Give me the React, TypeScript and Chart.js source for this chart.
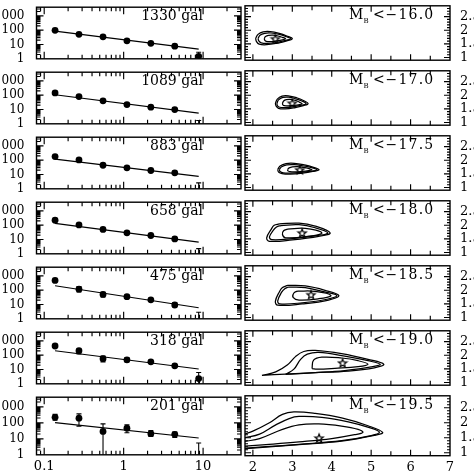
import React, { useEffect, useRef } from "react";
import { Chart, registerables } from "chart.js";

Chart.register(...registerables);
Chart.defaults.font.family = "'DejaVu Serif', serif";
Chart.defaults.color = "#000";

// ---------------- data ----------------
const galaxyCounts = ["1330 gal", "1089 gal", "883 gal", "658 gal", "475 gal", "318 gal", "201 gal"];
const magLimits = ["\u221216.0", "\u221217.0", "\u221217.5", "\u221218.0", "\u221218.5", "\u221219.0", "\u221219.5"];

const binRadii = [0.137, 0.274, 0.55, 1.1, 2.2, 4.4, 8.8];
const fitRadii = [0.137, 8.8];

const dens1330 = [98, 51, 34, 18, 12, 7.6, 1.5];
const lo1330 = [88, 46, 31, 16, 10.5, 6.6, 0.6];
const hi1330 = [108, 56, 37, 20, 13.5, 8.7, 2.9];
const fit1330 = [86, 4.8];

const dens1089 = [144, 79, 40, 22, 14.5, 9.8, null];
const lo1089 = [130, 71, 36, 20, 13, 8.6, 0.3];
const hi1089 = [158, 87, 44, 24, 16, 11, 1.7];
const fit1089 = [107, 5.5];

const dens883 = [178, 103, 44, 29, 19, 13, null];
const lo883 = [160, 93, 40, 26, 17, 11.5, 0.3];
const hi883 = [196, 113, 48, 32, 21, 14.5, 2.6];
const fit883 = [117, 7.4];

const dens658 = [220, 103, 50, 29, 19, 11, null];
const lo658 = [198, 90, 44, 26, 17, 9.5, 0.3];
const hi658 = [242, 116, 56, 32, 21, 12.5, 2.3];
const fit658 = [133, 6.5];

const dens475 = [475, 117, 50, 35, 21, 9.2, null];
const lo475 = [430, 76, 33, 30, 18, 6.7, 0.3];
const hi475 = [520, 178, 70, 40, 24, 13, 2.9];
const fit475 = [203, 5.9];

const dens318 = [436, 203, 57, 47, 34, 18, 2.3];
const lo318 = [395, 120, 34, 34, 29, 15, 0.3];
const hi318 = [480, 260, 86, 66, 39, 21, 6.2];
const fit318 = [203, 10.8];

const dens201 = [220, 195, 29, 46, 21, 19, null];
const lo201 = [144, 62, 0.3, 24, 14, 12, 0.3];
const hi201 = [335, 365, 86, 76, 33, 26, 5.5];
const fit201 = [103, 11.2];

// likelihood contours (x, y) and best-fit stars for each magnitude limit
type Pt = [number, number];
const outer16: Pt[] = [[2.07,1.70],[2.13,1.85],[2.26,1.94],[2.44,1.95],[2.67,1.885],[2.86,1.79],[3.00,1.69],[2.86,1.61],[2.63,1.53],[2.35,1.47],[2.16,1.49],[2.09,1.59]];
const mid16: Pt[] = [[2.13,1.70],[2.18,1.82],[2.30,1.89],[2.46,1.90],[2.67,1.85],[2.84,1.77],[2.96,1.69],[2.84,1.63],[2.63,1.56],[2.38,1.52],[2.21,1.54],[2.15,1.61]];
const inner16: Pt[] = [[2.29,1.70],[2.32,1.77],[2.40,1.81],[2.51,1.82],[2.64,1.79],[2.75,1.74],[2.83,1.69],[2.75,1.65],[2.61,1.61],[2.45,1.58],[2.34,1.59],[2.30,1.64]];
const star16: Pt = [2.57, 1.69];

const outer17: Pt[] = [[2.57,1.70],[2.62,1.86],[2.74,1.97],[2.90,1.98],[3.11,1.91],[3.28,1.81],[3.40,1.69],[3.28,1.62],[3.07,1.55],[2.82,1.50],[2.65,1.52],[2.59,1.60]];
const mid17: Pt[] = [[2.61,1.70],[2.65,1.83],[2.76,1.92],[2.91,1.93],[3.09,1.87],[3.24,1.79],[3.35,1.69],[3.24,1.64],[3.05,1.585],[2.83,1.55],[2.68,1.56],[2.62,1.62]];
const inner17: Pt[] = [[2.75,1.70],[2.78,1.79],[2.85,1.84],[2.95,1.85],[3.08,1.81],[3.18,1.75],[3.25,1.69],[3.18,1.66],[3.05,1.63],[2.90,1.61],[2.80,1.62],[2.76,1.65]];
const star17: Pt = [3.0, 1.71];

const outer175: Pt[] = [[2.63,1.66],[2.69,1.79],[2.84,1.88],[3.05,1.89],[3.31,1.83],[3.52,1.75],[3.68,1.65],[3.52,1.59],[3.26,1.53],[2.95,1.49],[2.74,1.51],[2.65,1.57]];
const mid175: Pt[] = [[2.67,1.66],[2.73,1.76],[2.86,1.83],[3.05,1.84],[3.29,1.79],[3.49,1.73],[3.63,1.65],[3.49,1.60],[3.25,1.56],[2.96,1.53],[2.77,1.54],[2.69,1.59]];
const inner175: Pt[] = [[2.88,1.66],[2.92,1.72],[3.00,1.76],[3.13,1.77],[3.28,1.74],[3.41,1.70],[3.50,1.65],[3.41,1.62],[3.25,1.59],[3.07,1.57],[2.94,1.58],[2.89,1.61]];
const star175: Pt = [3.19, 1.65];

const outer18: Pt[] = [[2.67,2.05],[3.17,2.08],[3.58,1.97],[3.96,1.72],[3.67,1.59],[3.0,1.46],[2.42,1.41],[2.35,1.54],[2.46,1.84],[2.54,2.00]];
const mid18: Pt[] = [[2.71,1.99],[3.17,2.02],[3.58,1.91],[3.90,1.72],[3.63,1.62],[3.0,1.51],[2.48,1.47],[2.42,1.57],[2.52,1.82],[2.60,1.94]];
const inner18: Pt[] = [[2.88,1.86],[3.33,1.89],[3.75,1.72],[3.42,1.60],[2.83,1.54],[2.75,1.66],[2.78,1.80]];
const star18: Pt = [3.25, 1.72];

const outer185: Pt[] = [[2.88,2.18],[3.33,2.16],[3.83,2.00],[4.18,1.81],[3.92,1.64],[3.25,1.50],[2.63,1.45],[2.57,1.59],[2.67,1.94],[2.75,2.10]];
const mid185: Pt[] = [[2.90,2.12],[3.33,2.10],[3.82,1.94],[4.13,1.81],[3.88,1.67],[3.25,1.54],[2.68,1.50],[2.63,1.61],[2.73,1.93],[2.81,2.06]];
const inner185: Pt[] = [[3.13,1.97],[3.58,1.96],[3.98,1.81],[3.67,1.69],[3.17,1.64],[3.02,1.74],[3.04,1.90]];
const star185: Pt = [3.475, 1.84];

const outer19: Pt[] = [[2.23,1.26],[2.58,1.39],[2.88,1.65],[3.08,1.95],[3.29,2.14],[3.58,2.18],[4.25,2.06],[4.92,1.85],[5.32,1.67],[5.08,1.54],[4.42,1.42],[3.58,1.36],[2.83,1.31]];
const mid19: Pt[] = [[2.83,1.30],[3.04,1.49],[3.21,1.85],[3.38,2.04],[3.67,2.11],[4.33,1.97],[4.92,1.80],[5.23,1.67],[5.0,1.57],[4.33,1.44],[3.58,1.36],[2.96,1.31]];
const inner19: Pt[] = [[3.50,1.51],[3.54,1.82],[3.75,1.93],[4.25,1.90],[4.67,1.80],[4.92,1.67],[4.67,1.58],[4.08,1.52],[3.63,1.49]];
const star19: Pt = [4.275, 1.72];

const outer195: Pt[] = [[1.6,1.55],[1.8,1.63],[2.0,1.72],[2.42,2.0],[2.75,2.28],[3.04,2.36],[3.58,2.31],[4.25,2.16],[4.92,1.90],[5.29,1.68],[5.08,1.58],[4.25,1.39],[3.17,1.27],[2.33,1.19],[1.83,1.14],[1.6,1.12]];
const mid195: Pt[] = [[1.6,1.44],[1.8,1.50],[2.17,1.62],[2.58,1.93],[2.92,2.14],[3.17,2.21],[3.75,2.18],[4.42,2.03],[5.0,1.82],[5.21,1.68],[5.0,1.57],[4.25,1.40],[3.17,1.28],[2.33,1.20],[1.83,1.15],[1.6,1.13]];
const inner195: Pt[] = [[1.6,1.33],[1.8,1.38],[2.17,1.47],[2.75,1.78],[3.17,1.93],[3.67,1.96],[4.25,1.89],[4.67,1.78],[4.79,1.68],[4.58,1.60],[4.0,1.47],[3.17,1.36],[2.33,1.27],[1.8,1.22],[1.6,1.2]];
const star195: Pt = [3.68, 1.49];

// axis tick labels
const leftXTicks = [0.1, 1, 10];
const leftYTicks = [1, 10, 100, 1000];
const rightXTicks = [2, 3, 4, 5, 6, 7];
const rightYTicks = [1, 1.5, 2, 2.5];

// tables built from the named arrays
const densRows = [dens1330, dens1089, dens883, dens658, dens475, dens318, dens201];
const loRows = [lo1330, lo1089, lo883, lo658, lo475, lo318, lo201];
const hiRows = [hi1330, hi1089, hi883, hi658, hi475, hi318, hi201];
const fitRows = [fit1330, fit1089, fit883, fit658, fit475, fit318, fit201];
const contourRows = [
  { c: [outer16, mid16, inner16], star: star16, closed: true },
  { c: [outer17, mid17, inner17], star: star17, closed: true },
  { c: [outer175, mid175, inner175], star: star175, closed: true },
  { c: [outer18, mid18, inner18], star: star18, closed: true },
  { c: [outer185, mid185, inner185], star: star185, closed: true },
  { c: [outer19, mid19, inner19], star: star19, closed: true },
  { c: [outer195, mid195, inner195], star: star195, closed: false },
];

// ---------------- layout ----------------
const PAGE = 474;
const NROWS = 7;
const ROW_TOP0 = 0;
const ROW_H = 65.1;

function rowGeom(row: number) {
  const T = ROW_TOP0 + row * ROW_H;
  const B = T + ROW_H;
  const last = row === NROWS - 1;
  const ct = Math.floor(T) - 12;
  const ch = last ? PAGE - ct : Math.ceil(B) + 12 - ct;
  return { T, B, last, ct, ch, padTop: T - ct, padBottom: last ? 0 : ct + ch - B, xAxisH: PAGE - B };
}

// minor tick values
const leftXMinor: number[] = [0.09, 20];
[0.1, 1, 10].forEach((d) => { for (let k = 2; k <= 9; k++) leftXMinor.push(k * d); });
const leftYMinor: number[] = [];
[1, 10, 100, 1000].forEach((d) => { for (let k = 2; k <= 9; k++) if (k * d < 4000) leftYMinor.push(k * d); });
const rightXMinor = [2.5, 3.5, 4.5, 5.5, 6.5];
const rightYMinor: number[] = [];
for (let i = 9; i <= 29; i++) if (i % 5 !== 0) rightYMinor.push(i / 10);

function makeStar(): HTMLCanvasElement {
  const c = document.createElement("canvas");
  c.width = 12; c.height = 12;
  const g = c.getContext("2d")!;
  g.strokeStyle = "#000";
  g.lineWidth = 1.2;
  g.beginPath();
  for (let k = 0; k < 10; k++) {
    const r = k % 2 === 0 ? 4.4 : 1.9;
    const ang = -Math.PI / 2 + (k * Math.PI) / 5;
    const x = 6 + r * Math.cos(ang);
    const y = 6.4 + r * Math.sin(ang);
    if (k === 0) g.moveTo(x, y); else g.lineTo(x, y);
  }
  g.closePath();
  g.stroke();
  return c;
}

type DecorOpts = {
  xMajor: number[]; xMinor: number[]; yMajor: number[]; yMinor: number[];
  xMajLen: number; xMinLen: number; yMajLen: number; yMinLen: number;
  errors?: { x: number[]; lo: number[]; hi: number[] };
  label: (ctx: CanvasRenderingContext2D, a: any) => void;
};

function decorPlugin(o: DecorOpts) {
  return {
    id: "decor",
    beforeDatasetsDraw(chart: any) {
      if (!o.errors) return;
      const { ctx, chartArea: a, scales } = chart;
      const xs = scales.x, ys = scales.y;
      ctx.save();
      ctx.beginPath();
      ctx.rect(a.left, a.top, a.right - a.left, a.bottom - a.top);
      ctx.clip();
      ctx.strokeStyle = "#000";
      ctx.lineWidth = 1.1;
      ctx.beginPath();
      o.errors.x.forEach((xv, i) => {
        const px = xs.getPixelForValue(xv);
        const p1 = ys.getPixelForValue(o.errors!.lo[i]);
        const p2 = ys.getPixelForValue(o.errors!.hi[i]);
        ctx.moveTo(px, p1); ctx.lineTo(px, p2);
        ctx.moveTo(px - 2.5, p1); ctx.lineTo(px + 2.5, p1);
        ctx.moveTo(px - 2.5, p2); ctx.lineTo(px + 2.5, p2);
      });
      ctx.stroke();
      ctx.restore();
    },
    afterDatasetsDraw(chart: any) {
      const { ctx, chartArea: a, scales } = chart;
      const xs = scales.x, ys = scales.y;
      ctx.save();
      ctx.strokeStyle = "#000";
      ctx.lineWidth = 1.15;
      ctx.beginPath();
      const xt = (vals: number[], len: number) => vals.forEach((v) => {
        const p = xs.getPixelForValue(v);
        if (p <= a.left + 0.5 || p >= a.right - 0.5) return;
        ctx.moveTo(p, a.bottom); ctx.lineTo(p, a.bottom - len);
        ctx.moveTo(p, a.top); ctx.lineTo(p, a.top + len);
      });
      const yt = (vals: number[], len: number) => vals.forEach((v) => {
        const p = ys.getPixelForValue(v);
        if (p <= a.top + 0.5 || p >= a.bottom - 0.5) return;
        ctx.moveTo(a.left, p); ctx.lineTo(a.left + len, p);
        ctx.moveTo(a.right, p); ctx.lineTo(a.right - len, p);
      });
      xt(o.xMajor, o.xMajLen); xt(o.xMinor, o.xMinLen);
      yt(o.yMajor, o.yMajLen); yt(o.yMinor, o.yMinLen);
      ctx.stroke();
      ctx.lineWidth = 1.4;
      ctx.strokeRect(a.left, a.top, a.right - a.left, a.bottom - a.top);
      ctx.fillStyle = "#000";
      o.label(ctx, a);
      ctx.restore();
    },
  };
}

const baseOptions = {
  animation: false as const,
  responsive: false,
  devicePixelRatio: 1,
  events: [] as any[],
  plugins: { legend: { display: false }, tooltip: { enabled: false } },
};

const noGrid = { display: false, drawTicks: false, tickLength: 0 };

function leftConfig(row: number): any {
  const g = rowGeom(row);
  const dens = densRows[row];
  const pts = binRadii.map((x, i) => ({ x, y: dens[i] })).filter((p) => p.y !== null);
  const fit = fitRows[row].map((y, i) => ({ x: fitRadii[i], y }));
  return {
    type: "scatter",
    data: {
      datasets: [
        { type: "line", data: fit, borderColor: "#000", borderWidth: 1.2, pointRadius: 0, fill: false, showLine: true },
        { type: "scatter", data: pts, pointRadius: 3.4, pointBackgroundColor: "#000", pointBorderWidth: 0 },
      ],
    },
    options: {
      ...baseOptions,
      layout: { padding: { left: 0, right: 4, top: g.padTop, bottom: g.padBottom } },
      scales: {
        x: {
          type: "logarithmic", min: 0.08, max: 30, position: "bottom", display: g.last,
          grid: noGrid, border: { display: false },
          ticks: { autoSkip: false, maxRotation: 0, padding: 4, font: { size: 13 }, color: "#000", callback: (v: any) => String(v) },
          afterBuildTicks: (s: any) => { s.ticks = leftXTicks.map((v) => ({ value: v })); },
          ...(g.last ? { afterFit: (s: any) => { s.height = g.xAxisH; } } : {}),
        },
        y: {
          type: "logarithmic", min: 1, max: 4000, position: "left",
          grid: noGrid, border: { display: false },
          ticks: { autoSkip: false, padding: 12, font: { size: 12 }, color: "#000", callback: (v: any) => String(v) },
          afterBuildTicks: (s: any) => { s.ticks = leftYTicks.map((v) => ({ value: v })); },
          afterFit: (s: any) => { s.width = 60.5; },
        },
      },
    },
    plugins: [
      decorPlugin({
        xMajor: leftXTicks, xMinor: leftXMinor, yMajor: leftYTicks, yMinor: leftYMinor,
        xMajLen: 7, xMinLen: 4, yMajLen: 7, yMinLen: 4,
        errors: { x: binRadii, lo: loRows[row], hi: hiRows[row] },
        label: (ctx, a) => {
          ctx.font = "14px 'DejaVu Serif'";
          ctx.textAlign = "right";
          ctx.textBaseline = "middle";
          ctx.fillText(galaxyCounts[row], a.left + 166.5, a.top + 9.5);
        },
      }),
    ],
  };
}

function rightConfig(row: number, star: HTMLCanvasElement): any {
  const g = rowGeom(row);
  const spec = contourRows[row];
  const lines = spec.c.map((c) => ({
    type: "line",
    data: (spec.closed ? [...c, c[0]] : c).map(([x, y]) => ({ x, y })),
    borderColor: "#000", borderWidth: 1.25, pointRadius: 0, fill: false, showLine: true, tension: 0.4,
  }));
  return {
    type: "scatter",
    data: {
      datasets: [
        ...lines,
        { type: "scatter", data: [{ x: spec.star[0], y: spec.star[1] }], pointStyle: star, pointRadius: 6 },
      ],
    },
    options: {
      ...baseOptions,
      layout: { padding: { left: 4, right: 0, top: g.padTop, bottom: g.padBottom } },
      scales: {
        x: {
          type: "linear", min: 1.8, max: 7, position: "bottom", display: g.last,
          grid: noGrid, border: { display: false },
          ticks: { autoSkip: false, maxRotation: 0, padding: 4, font: { size: 13 }, color: "#000", callback: (v: any) => String(v) },
          afterBuildTicks: (s: any) => { s.ticks = rightXTicks.map((v) => ({ value: v })); },
          ...(g.last ? { afterFit: (s: any) => { s.height = g.xAxisH; } } : {}),
        },
        y: {
          type: "linear", min: 0.9, max: 2.9, position: "right",
          grid: noGrid, border: { display: false },
          ticks: { autoSkip: false, padding: 10, font: { size: 13 }, color: "#000", callback: (v: any) => String(v) },
          afterBuildTicks: (s: any) => { s.ticks = rightYTicks.map((v) => ({ value: v })); },
          afterFit: (s: any) => { s.width = 38; },
        },
      },
    },
    plugins: [
      decorPlugin({
        xMajor: rightXTicks, xMinor: rightXMinor, yMajor: rightYTicks, yMinor: rightYMinor,
        xMajLen: 6, xMinLen: 4.5, yMajLen: 6, yMinLen: 3,
        label: (ctx, a) => {
          const y = a.top + 10;
          ctx.textAlign = "left";
          ctx.textBaseline = "middle";
          ctx.font = "14px 'DejaVu Serif'";
          ctx.fillText("M", a.left + 104, y);
          ctx.font = "7px 'DejaVu Serif'";
          ctx.fillText("B", a.left + 118.5, y + 5);
          ctx.font = "14px 'DejaVu Serif'";
          ctx.fillText("<", a.left + 128, y);
          try { (ctx as any).letterSpacing = "1.2px"; } catch (e) {}
          ctx.fillText(magLimits[row], a.left + 140.5, y);
          try { (ctx as any).letterSpacing = "0px"; } catch (e) {}
        },
      }),
    ],
  };
}

function Panel({ row, side }: { row: number; side: "left" | "right" }) {
  const ref = useRef<HTMLCanvasElement>(null);
  const g = rowGeom(row);
  const cl = side === "left" ? -24 : 238;
  const cw = side === "left" ? 269 : 250;
  useEffect(() => {
    const cfg = side === "left" ? leftConfig(row) : rightConfig(row, makeStar());
    const chart = new Chart(ref.current!, cfg);
    return () => chart.destroy();
  }, [row, side]);
  return (
    <canvas
      ref={ref}
      width={cw}
      height={g.ch}
      style={{ position: "absolute", left: cl, top: g.ct, width: cw, height: g.ch }}
    />
  );
}

export default function App() {
  const rows = Array.from({ length: NROWS }, (_, i) => i);
  return (
    <div style={{ position: "absolute", left: 0, top: 0, width: PAGE, height: PAGE, overflow: "hidden", background: "#fff" }}>
      {rows.map((r) => <Panel key={"l" + r} row={r} side="left" />)}
      {rows.map((r) => <Panel key={"r" + r} row={r} side="right" />)}
    </div>
  );
}
